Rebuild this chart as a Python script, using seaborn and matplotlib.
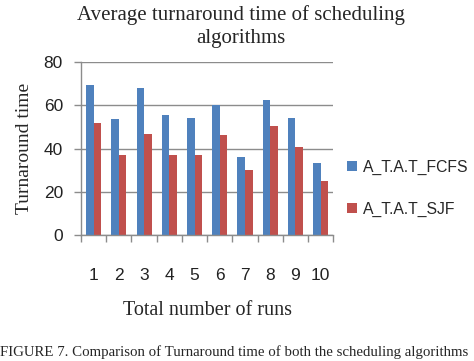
import matplotlib
matplotlib.use('Agg')
import seaborn as sns
import matplotlib.pyplot as plt
from matplotlib.ticker import MultipleLocator
import pandas as pd

# values
runs = ['1', '2', '3', '4', '5', '6', '7', '8', '9', '10']
fcfs = [69.2, 53.5, 67.8, 55.7, 54.3, 60.3, 36.0, 62.3, 54.3, 33.5]
sjf = [51.8, 36.8, 46.9, 36.8, 36.8, 46.2, 30.2, 50.3, 40.9, 24.8]
series = ['A_T.A.T_FCFS', 'A_T.A.T_SJF']
colors = ['#4F81BD', '#C0504D']

df = pd.DataFrame({
  'run': runs * 2,
  'value': fcfs + sjf,
  'series': [series[0]] * len(runs) + [series[1]] * len(runs),
})

sns.set_style('white')
serif = ['Liberation Serif', 'DejaVu Serif']
sans = ['Liberation Sans', 'DejaVu Sans']

fig = plt.figure(figsize=(4.74, 3.61), dpi=100)
ax = fig.add_axes([0.171, 0.349, 0.532, 0.479])

sns.barplot(data=df, x='run', y='value', hue='series', hue_order=series,
            palette=colors, width=0.6, saturation=1, linewidth=0, ax=ax)

ax.set_ylim(0, 80)
ax.set_xlim(-0.5, len(runs) - 0.5)
ax.yaxis.set_major_locator(MultipleLocator(20))
ax.grid(axis='y', color='#8c8c8c', linewidth=1)
ax.set_axisbelow(True)
for s in ['top', 'right']:
  ax.spines[s].set_visible(False)
for s in ['left', 'bottom']:
  ax.spines[s].set_color('#8c8c8c')
  ax.spines[s].set_linewidth(1)

ax.set_xticks([i - 0.5 for i in range(len(runs) + 1)], minor=True)
ax.tick_params(axis='x', which='minor', length=5, color='#8c8c8c', width=1)
ax.tick_params(axis='x', which='major', length=0, pad=24)
ax.tick_params(axis='y', length=5, color='#8c8c8c', width=1, pad=8)
ax.yaxis.set_tick_params(left=True)
ax.xaxis.set_tick_params(which='minor', bottom=True)
for lbl in ax.get_xticklabels() + ax.get_yticklabels():
  lbl.set_family(sans)
  lbl.set_fontsize(12.5)
  lbl.set_color('#222222')

ax.set_xlabel('Total number of runs', family=serif, fontsize=14.5, labelpad=13)
ax.set_ylabel('Turnaround time', family=serif, fontsize=14, labelpad=8)

fig.text(0.508, 0.985, 'Average turnaround time of scheduling\nalgorithms',
         family=serif, fontsize=15, ha='center', va='top', linespacing=1.25)

leg = ax.legend(loc='center left', bbox_to_anchor=(1.0, 0.27), frameon=False,
                handlelength=0.6, handleheight=0.6, handletextpad=0.4,
                labelspacing=1.7, prop={'family': sans, 'size': 11.3})

fig.text(0.0, 0.005, 'FIGURE 7. Comparison of Turnaround time of both the scheduling algorithms',
         family=serif, fontsize=10.7, ha='left', va='bottom')

fig.savefig('out.png', dpi=100)
